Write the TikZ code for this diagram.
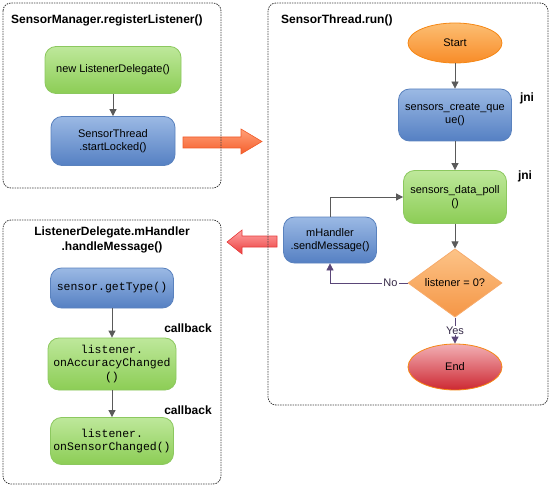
\documentclass[tikz,border=0pt]{standalone}
\usepackage{fontspec}
\setmainfont{Liberation Sans}
\setmonofont{Liberation Mono}
\usetikzlibrary{shapes.geometric,arrows.meta}

\definecolor{greentop}{RGB}{190,232,155}
\definecolor{greenbot}{RGB}{140,205,85}
\definecolor{greenline}{RGB}{140,200,95}
\definecolor{bluetop}{RGB}{155,185,228}
\definecolor{bluebot}{RGB}{85,128,195}
\definecolor{blueline}{RGB}{90,130,190}
\definecolor{orangetop}{RGB}{252,190,115}
\definecolor{orangebot}{RGB}{248,140,40}
\definecolor{orangeline}{RGB}{245,135,20}
\definecolor{decidetop}{RGB}{252,195,135}
\definecolor{decidebot}{RGB}{245,150,70}
\definecolor{redtop}{RGB}{242,175,180}
\definecolor{redbot}{RGB}{205,40,50}
\definecolor{flowgray}{RGB}{90,90,90}
\definecolor{loopviolet}{RGB}{90,70,120}
\definecolor{pushtop}{RGB}{255,160,120}
\definecolor{pushbot}{RGB}{245,95,45}
\definecolor{pushline}{RGB}{240,90,40}
\definecolor{backtop}{RGB}{255,165,165}
\definecolor{backbot}{RGB}{235,60,60}
\definecolor{backline}{RGB}{230,60,60}

\begin{document}
\begin{tikzpicture}[x=1pt,y=-1pt,
  font=\fontsize{11}{13}\selectfont,
  grpframe/.style={draw=black!75,line width=0.8pt,dash pattern=on 1.5pt off 1pt,rounded corners=8pt},
  grptitle/.style={font=\fontsize{12}{15}\selectfont\bfseries,inner sep=0pt},
  tagtext/.style={font=\fontsize{12}{14}\selectfont\bfseries,inner sep=0pt},
  greenbox/.style={draw=greenline,line width=0.8pt,top color=greentop,bottom color=greenbot,rounded corners=11pt,align=center,inner sep=0pt},
  bluebox/.style={draw=blueline,line width=0.8pt,top color=bluetop,bottom color=bluebot,rounded corners=11pt,align=center,inner sep=0pt},
  codetext/.style={font=\fontsize{11.5}{13.5}\selectfont\ttfamily},
  flow/.style={draw=flowgray,line width=0.8pt,-{Triangle[length=7pt,width=7pt]}},
  loopflow/.style={draw=loopviolet,line width=0.8pt,-{Triangle[length=7pt,width=7pt]}}]
\useasboundingbox (0,0) rectangle (555,487);

% block arrows between the groups
\shade[top color=pushtop,bottom color=pushbot,draw=pushline,line width=0.6pt]
  (183,137) -- (241,137) -- (241,129) -- (262,141.5) -- (241,154) -- (241,148) -- (183,148) -- cycle;
\shade[top color=backtop,bottom color=backbot,draw=backline,line width=0.6pt]
  (277,236) -- (242,236) -- (242,230) -- (227,242) -- (242,254) -- (242,247) -- (277,247) -- cycle;

% groups
\draw[grpframe] (3,3) rectangle (221,188);
\draw[grpframe] (268,3) rectangle (548,405);
\draw[grpframe] (3,220) rectangle (221,484);
\node[grptitle,anchor=west] (regtitle) at (11,20) {SensorManager.registerListener()};
\node[grptitle,anchor=west] (runtitle) at (281,20) {SensorThread.run()};
\node[grptitle,align=center] (handletitle) at (112,240) {ListenerDelegate.mHandler\\.handleMessage()};

% SensorManager.registerListener()
\node[greenbox,minimum width=136pt,minimum height=47pt] (newdel) at (113,70) {new ListenerDelegate()};
\node[bluebox,minimum width=124pt,minimum height=49pt] (startlock) at (113,141) {SensorThread\\.startLocked()};
\draw[flow] (newdel) -- (startlock);

% SensorThread.run()
\node[ellipse,draw=orangeline,line width=0.8pt,top color=orangetop,bottom color=orangebot,minimum width=94pt,minimum height=40pt] (start) at (455,43) {Start};
\node[bluebox,minimum width=113pt,minimum height=52pt] (createq) at (455,115) {sensors\_create\_que\\ue()};
\node[greenbox,minimum width=103pt,minimum height=53pt] (poll) at (455,197) {sensors\_data\_poll\\()};
\node[bluebox,minimum width=93pt,minimum height=46pt] (sendmsg) at (330,240) {mHandler\\.sendMessage()};
\node[diamond,draw=decidebot!80!white,line width=0.8pt,top color=decidetop,bottom color=decidebot,minimum width=94pt,minimum height=52pt,inner sep=0pt] (decide) at (455,283) {listener = 0?};
\node[ellipse,draw=orangeline,line width=0.8pt,top color=redtop,bottom color=redbot,minimum width=94pt,minimum height=46pt] (stop) at (455,367) {End};
\node[tagtext] (jnia) at (527,98) {jni};
\node[tagtext] (jnib) at (525,176) {jni};
\draw[flow] (start) -- (createq);
\draw[flow] (createq) -- (poll);
\draw[flow] (poll) -- (decide);
\draw[flow] (sendmsg.north) |- (poll.west);
\draw[loopflow] (decide.west) -| node[pos=0.11,fill=white,inner sep=1pt,text=loopviolet!60!black] {No} (sendmsg.south);
\draw[loopflow] (decide.south) -- node[fill=white,inner sep=1pt,text=loopviolet!60!black] {Yes} (stop.north);

% ListenerDelegate.mHandler.handleMessage()
\node[bluebox,codetext,minimum width=123pt,minimum height=40pt] (gettype) at (112,288) {sensor.getType()};
\node[greenbox,codetext,minimum width=128pt,minimum height=52pt] (accchg) at (112,364) {listener.\\onAccuracyChanged\\()};
\node[greenbox,codetext,minimum width=123pt,minimum height=47pt] (senschg) at (112,441) {listener.\\onSensorChanged()};
\node[tagtext] (cba) at (188,328) {callback};
\node[tagtext] (cbb) at (188,410) {callback};
\draw[flow] (gettype) -- (accchg);
\draw[flow] (accchg) -- (senschg);
\end{tikzpicture}
\end{document}
